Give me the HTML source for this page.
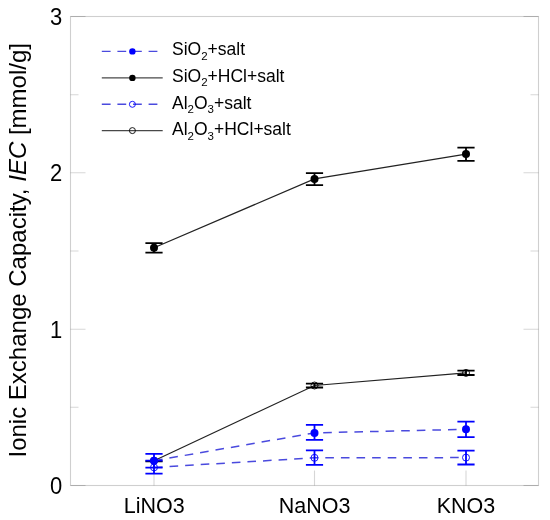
<!DOCTYPE html><html><head><meta charset="utf-8"><style>html,body{margin:0;padding:0;background:#fff;width:550px;height:520px;overflow:hidden}svg{display:block}text{font-family:"Liberation Sans",Arial,sans-serif;fill:#000}</style></head><body>
<svg width="550" height="520" viewBox="0 0 550 520">
<rect width="550" height="520" fill="#fff"/>
<rect x="70.5" y="16.5" width="468.0" height="469.0" fill="none" stroke="rgba(0,0,0,0.19)" stroke-width="1.1"/>
<path d="M70.5 485.5H85.5M538.5 485.5H523.5M70.5 329.2H85.5M538.5 329.2H523.5M70.5 172.8H85.5M538.5 172.8H523.5M70.5 16.5H85.5M538.5 16.5H523.5M70.5 407.3H78.5M538.5 407.3H530.5M70.5 251.0H78.5M538.5 251.0H530.5M70.5 94.7H78.5M538.5 94.7H530.5M154 485.5V470.5M314.5 485.5V470.5M466 485.5V470.5" stroke="rgba(0,0,0,0.16)" stroke-width="1.1" fill="none"/>
<text transform="translate(62.3,494.1) scale(1,1.05)" font-size="22" text-anchor="end">0</text>
<text transform="translate(62.3,337.8) scale(1,1.05)" font-size="22" text-anchor="end">1</text>
<text transform="translate(62.3,181.4) scale(1,1.05)" font-size="22" text-anchor="end">2</text>
<text transform="translate(62.3,25.1) scale(1,1.05)" font-size="22" text-anchor="end">3</text>
<text transform="translate(154.3,513.3) scale(1,1.06)" font-size="21.5" text-anchor="middle">LiNO3</text>
<text transform="translate(314.5,513.3) scale(1,1.06)" font-size="21.5" text-anchor="middle">NaNO3</text>
<text transform="translate(466,513.3) scale(1,1.06)" font-size="21.5" text-anchor="middle">KNO3</text>
<text transform="translate(26,457.5) rotate(-90)" font-size="24">Ionic Exchange Capacity, <tspan font-style="italic">IEC</tspan> [mmol/g]</text>
<polyline points="154,460.7 314.5,385.5 466,372.9" fill="none" stroke="#222" stroke-width="1.2"/>
<polyline points="154,247.7 314.5,178.9 466,154.1" fill="none" stroke="#222" stroke-width="1.2"/>
<polyline points="154,467.4 314.5,457.8 466,457.6" fill="none" stroke="#4a4ade" stroke-width="1.5" stroke-dasharray="8.6 7"/>
<polyline points="154,460.7 314.5,432.9 466,429.3" fill="none" stroke="#4a4ade" stroke-width="1.5" stroke-dasharray="8.6 7"/>
<path d="M154 461.4V461.4M145.4 461.4H162.6M145.4 461.4H162.6M314.5 383.6V387.5M305.9 383.6H323.1M305.9 387.5H323.1M466 370.7V375.0M457.4 370.7H474.6M457.4 375.0H474.6" stroke="#000" stroke-width="1.8" fill="none"/>
<circle cx="154" cy="460.7" r="3.5" fill="none" stroke="#000" stroke-width="0.9"/><circle cx="314.5" cy="385.5" r="3.5" fill="none" stroke="#000" stroke-width="0.9"/><circle cx="466" cy="372.9" r="3.5" fill="none" stroke="#000" stroke-width="0.9"/>
<path d="M154 243.2V252.7M145.4 243.2H162.6M145.4 252.7H162.6M314.5 173.2V185.2M305.9 173.2H323.1M305.9 185.2H323.1M466 147.6V160.9M457.4 147.6H474.6M457.4 160.9H474.6" stroke="#000" stroke-width="1.8" fill="none"/>
<circle cx="154" cy="247.7" r="4" fill="#000"/><circle cx="314.5" cy="178.9" r="4" fill="#000"/><circle cx="466" cy="154.1" r="4" fill="#000"/>
<path d="M154 460.7V473.7M145.4 460.7H162.6M145.4 473.7H162.6M314.5 450.4V464.8M305.9 450.4H323.1M305.9 464.8H323.1M466 450.6V464.5M457.4 450.6H474.6M457.4 464.5H474.6" stroke="#0000ff" stroke-width="1.8" fill="none"/>
<circle cx="154" cy="467.4" r="3.5" fill="none" stroke="#0000ff" stroke-width="0.9"/><circle cx="314.5" cy="457.8" r="3.5" fill="none" stroke="#0000ff" stroke-width="0.9"/><circle cx="466" cy="457.6" r="3.5" fill="none" stroke="#0000ff" stroke-width="0.9"/>
<path d="M154 453.8V467.6M145.4 453.8H162.6M145.4 467.6H162.6M314.5 424.8V439.9M305.9 424.8H323.1M305.9 439.9H323.1M466 421.6V437.1M457.4 421.6H474.6M457.4 437.1H474.6" stroke="#0000ff" stroke-width="1.8" fill="none"/>
<circle cx="154" cy="460.7" r="4" fill="#0000ff"/><circle cx="314.5" cy="432.9" r="4" fill="#0000ff"/><circle cx="466" cy="429.3" r="4" fill="#0000ff"/>
<path d="M101.8 51.4H162.7" stroke="#4a4ade" stroke-width="1.4" stroke-dasharray="8.8 6.8"/>
<circle cx="132.4" cy="51.4" r="3.2" fill="#0000ff"/>
<path d="M101.8 77.9H162.7" stroke="#484848" stroke-width="1.4"/>
<circle cx="132.4" cy="77.9" r="3.2" fill="#000"/>
<path d="M101.8 104.3H162.7" stroke="#4a4ade" stroke-width="1.4" stroke-dasharray="8.8 6.8"/>
<circle cx="132.4" cy="104.3" r="3.0" fill="none" stroke="#0000ff" stroke-width="0.9"/>
<path d="M101.8 130.6H162.7" stroke="#484848" stroke-width="1.4"/>
<circle cx="132.4" cy="130.6" r="3.0" fill="none" stroke="#000" stroke-width="0.9"/>
<text x="172" y="55.4" font-size="17.5">SiO<tspan font-size="11.5" dy="4.3">2</tspan><tspan dy="-4.3">+salt</tspan></text>
<text x="172" y="82.0" font-size="17.5">SiO<tspan font-size="11.5" dy="4.3">2</tspan><tspan dy="-4.3">+HCl+salt</tspan></text>
<text x="172" y="108.8" font-size="17.5">Al<tspan font-size="11.5" dy="4.3">2</tspan><tspan dy="-4.3">O</tspan><tspan font-size="11.5" dy="4.3">3</tspan><tspan dy="-4.3">+salt</tspan></text>
<text x="172" y="135.4" font-size="17.5">Al<tspan font-size="11.5" dy="4.3">2</tspan><tspan dy="-4.3">O</tspan><tspan font-size="11.5" dy="4.3">3</tspan><tspan dy="-4.3">+HCl+salt</tspan></text>
</svg></body></html>
